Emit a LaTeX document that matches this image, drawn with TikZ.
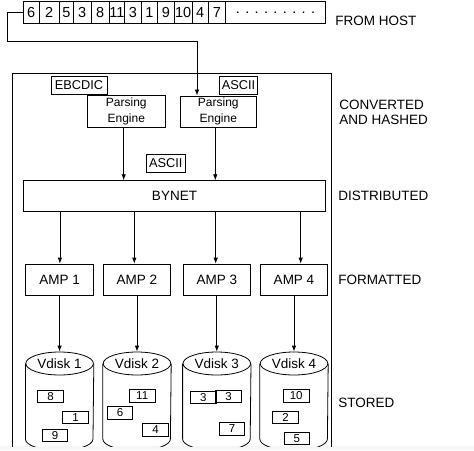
\documentclass[tikz,border=0pt]{standalone}
\usepackage{fontspec}
\setmainfont{Liberation Sans}
\usetikzlibrary{shapes.geometric,arrows.meta}
\begin{document}
\begin{tikzpicture}[x=1pt, y=-1pt, line width=0.8pt, >={Latex[length=6pt,width=4.5pt]},
		box/.style={draw, rectangle, inner sep=0pt, font=\fontsize{13.5}{16}\selectfont},
		cell/.style={draw, rectangle, inner sep=0pt, minimum height=21.8, font=\fontsize{14.5}{16}\selectfont},
		tag/.style={draw, rectangle, inner sep=0pt, minimum height=17.5, font=\fontsize{12.8}{14}\selectfont},
		blk/.style={draw, rectangle, inner sep=0pt, minimum width=25.5, minimum height=12.3, font=\fontsize{11.5}{12}\selectfont},
		disk/.style={draw, ellipse, inner sep=0pt, minimum width=67.6, minimum height=23, font=\fontsize{13.5}{16}\selectfont},
		stage/.style={anchor=west, align=left, inner sep=0pt, font=\fontsize{13.5}{15}\selectfont}]
		    \useasboundingbox (0,0) rectangle (474,450);
		    \fill[gray!8] (0,446) rectangle (474,450);
		    \begin{scope}
		    \clip (0,0) rectangle (474,446);

		    \foreach \cx/\w/\t [count=\n] in {31.15/15.7/6, 49.15/20.3/2, 66.3/14/5, 82.15/17.7/3, 100.15/18.3/8, 116.8/15/11,
		        132.8/17/3, 149.3/16/1, 165.8/17/9, 183.15/17.7/10, 200.15/16.3/4, 216.8/17/7, 275.5/100.4/{. . . . . . . . .}} {
		        \node[cell, minimum width=\w] (c\n) at (\cx, 12.4) {\t};
		        }

		    \node[draw, rectangle, inner sep=0pt, minimum width=319, minimum height=400] (system) at (172.2, 273.3) {};

		    \node[tag, minimum width=56] (ebcdic) at (79, 85.5) {EBCDIC};
		    \node[tag, minimum width=38.4] (ascii1) at (238.5, 85.5) {ASCII};
		    \node[box, minimum width=77.3, minimum height=32, align=center, font=\fontsize{12}{16}\selectfont] (pe1) at (126.3, 111.7) {Parsing\\Engine};
		    \node[box, minimum width=76.7, minimum height=31.7, align=center, font=\fontsize{12}{16}\selectfont] (pe2) at (218.3, 111.8) {Parsing\\Engine};
		    \node[tag, minimum width=38.3, minimum height=18] (ascii2) at (165.8, 163.3) {ASCII};
		    \node[box, minimum width=302.4, minimum height=31] (bynet) at (174.5, 196.2) {BYNET};

		    \foreach \x [count=\i] in {59.6, 137, 216.8, 294} {
		        \node[box, minimum width=67.5, minimum height=31.7] (amp\i) at (\x, 279.9) {AMP \i};
		        \node[disk] (vd\i) at (\x, 363.5) {Vdisk \i};
		        \draw (vd\i.west) -- ++(0, 75.5) arc[start angle=180, end angle=360, x radius=33.8pt, y radius=11.5pt] -- (vd\i.east);
		        \draw[->] (amp\i.south) -- (vd\i.north);
		        }

		    \foreach \x/\y/\t [count=\n] in {50.5/396.2/8, 75.5/417.2/1, 55/435.5/9, 142.2/396/11, 120/412.8/6, 155.5/430/4,
		        203.3/397.3/3, 228.5/396.5/3, 232/428.8/7, 296.2/396/10, 285.5/417.2/2, 296.7/438.3/5} {
		        \node[blk] (blk\n) at (\x, \y) {\t};
		        }

		    \coordinate (bend) at (197, 41);
		    \draw[->] (c1.west) -- ++(-15.3, 0) |- (bend) -- (bend |- pe2.north);
		    \draw[->] ([xshift=-2.6]pe1.south) -- ([xshift=-2.6]pe1.south |- bynet.north);
		    \draw[->] ([xshift=-3]pe2.south) -- ([xshift=-3]pe2.south |- bynet.north);
		    \foreach \i/\dx in {1/0.3, 2/-2.7, 3/-1.1, 4/6.7} {
		        \draw[->] ([xshift=\dx]amp\i.north |- bynet.south) -- ([xshift=\dx]amp\i.north);
		        }

		    \node[stage] (host) at (335, 20.7) {FROM HOST};
		    \node[stage] (converted) at (339, 112) {CONVERTED\\AND HASHED};
		    \node[stage] (distributed) at (338, 196) {DISTRIBUTED};
		    \node[stage] (formatted) at (338, 280) {FORMATTED};
		    \node[stage] (stored) at (338, 403) {STORED};
		    \end{scope}
		\end{tikzpicture}
\end{document}
